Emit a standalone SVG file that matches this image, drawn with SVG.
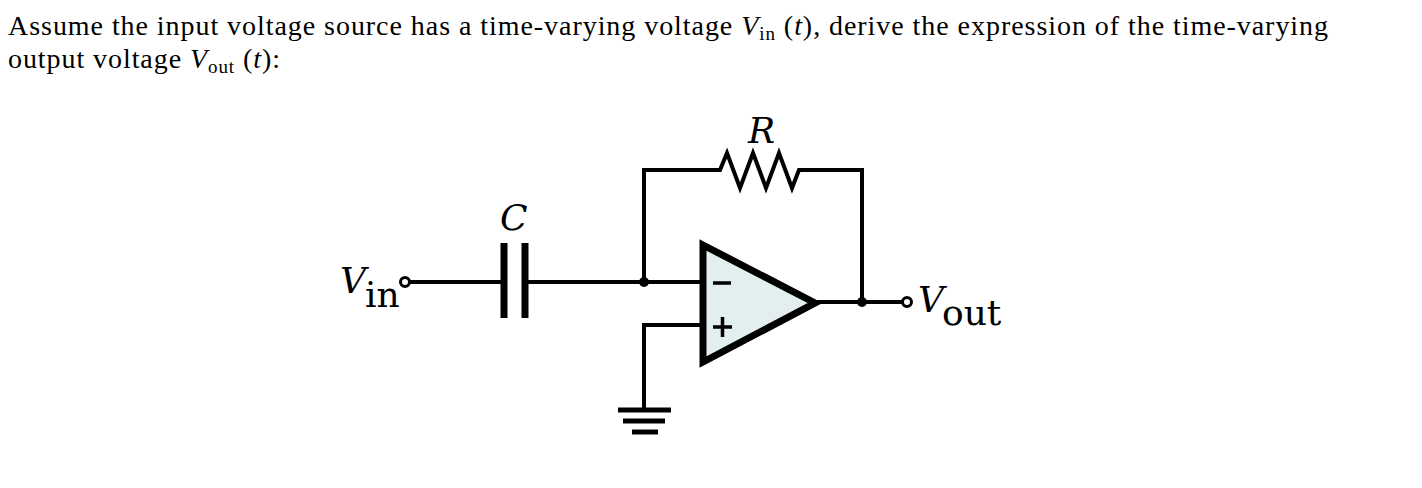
<svg xmlns="http://www.w3.org/2000/svg" width="1422" height="488" viewBox="0 0 1422 488">
<style>
.w{fill:none;stroke:#000;stroke-width:4;stroke-linejoin:miter}
.t{font-family:"Liberation Serif",serif;font-size:28px}
.l{font-family:"DejaVu Serif",serif;font-size:36px}
</style>
<rect width="1422" height="488" fill="#fff"/>
<g id="question">
<text class="t" x="8" y="35" textLength="1320" lengthAdjust="spacing">Assume the input voltage source has a time-varying voltage <tspan font-style="italic">V</tspan><tspan font-size="19" dy="5">in</tspan><tspan dy="-5"> (</tspan><tspan font-style="italic">t</tspan>), derive the expression of the time-varying</text>
<text class="t" x="8" y="68" textLength="272" lengthAdjust="spacing">output voltage <tspan font-style="italic">V</tspan><tspan font-size="19" dy="5">out</tspan><tspan dy="-5"> (</tspan><tspan font-style="italic">t</tspan>):</text>
</g>
<g id="connectors">
<path class="w" d="M409 282H504M525 282H700M644 282V170H720L727 153L740 188L753 153L766 188L779 153L792 188L799 170H862V302M815 302H903M700 325H644V408"/>
</g>
<g id="vin"><circle cx="405" cy="282" r="4.5" fill="#fff" stroke="#000" stroke-width="3"/>
<text class="l" x="340" y="293" font-style="italic">V</text><text class="l" x="365" y="307" font-size="29">in</text></g>
<g id="capacitor"><path d="M504 243V318M525 243V318" stroke="#000" stroke-width="7"/>
<text class="l" x="500" y="230" font-style="italic">C</text></g>
<g id="resistor"><text class="l" x="748" y="143" font-style="italic">R</text></g>
<g id="opamp"><path d="M703 245L815 303L703 362Z" fill="#e3efef" stroke="#000" stroke-width="7"/>
<path d="M713 283H731M713 327H732M722.5 317V337" stroke="#000" stroke-width="3.5"/></g>
<g id="nodes"><circle cx="644" cy="282" r="5"/><circle cx="862" cy="302" r="5"/></g>
<g id="vout"><circle cx="907" cy="302" r="4.5" fill="#fff" stroke="#000" stroke-width="3"/>
<text class="l" x="918" y="312" font-style="italic">V</text><text class="l" x="942" y="325" font-size="29">out</text></g>
<g id="ground"><path d="M618 410H671M623 421H665M632 432H658" stroke="#000" stroke-width="5"/></g>
</svg>
